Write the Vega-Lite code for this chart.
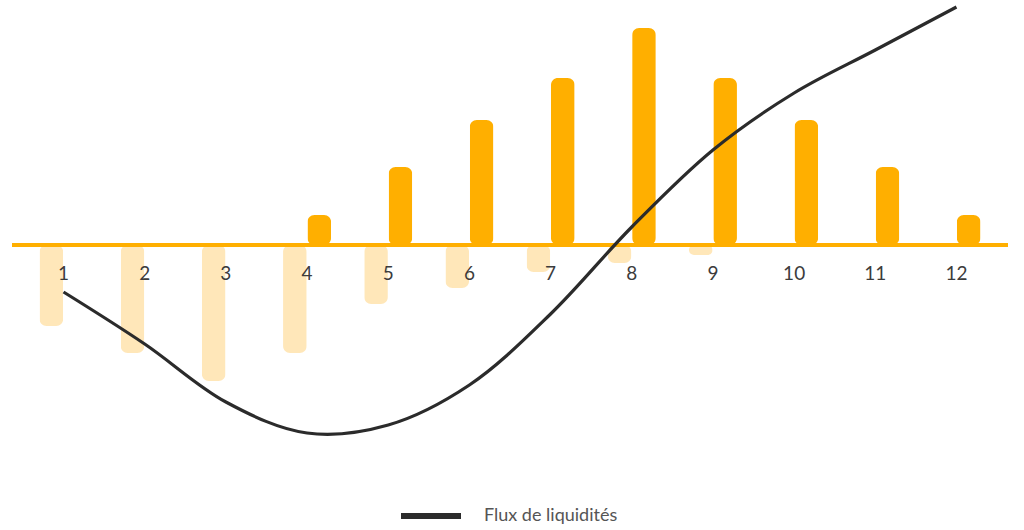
{
  "$schema": "https://vega.github.io/schema/vega-lite/v6.json",
  "autosize": {"type": "none"},
  "width": 996,
  "height": 460,
  "padding": {"left": 12, "top": 0, "right": 16, "bottom": 70},
  "background": "white",
  "config": {"view": {"stroke": null}, "font": "Lato"},
  "datasets": {
    "barres": [
      {"periode": 1, "type": "sortie", "valeur": -8.1},
      {"periode": 2, "type": "sortie", "valeur": -10.8},
      {"periode": 3, "type": "sortie", "valeur": -13.6},
      {"periode": 4, "type": "sortie", "valeur": -10.8},
      {"periode": 5, "type": "sortie", "valeur": -5.9},
      {"periode": 6, "type": "sortie", "valeur": -4.3},
      {"periode": 7, "type": "sortie", "valeur": -2.7},
      {"periode": 8, "type": "sortie", "valeur": -1.8},
      {"periode": 9, "type": "sortie", "valeur": -1.0},
      {"periode": 4, "type": "entree", "valeur": 3.0},
      {"periode": 5, "type": "entree", "valeur": 7.8},
      {"periode": 6, "type": "entree", "valeur": 12.5},
      {"periode": 7, "type": "entree", "valeur": 16.7},
      {"periode": 8, "type": "entree", "valeur": 21.7},
      {"periode": 9, "type": "entree", "valeur": 16.7},
      {"periode": 10, "type": "entree", "valeur": 12.5},
      {"periode": 11, "type": "entree", "valeur": 7.8},
      {"periode": 12, "type": "entree", "valeur": 3.0}
    ],
    "flux": [
      {"periode": 1, "cumul": -4.7},
      {"periode": 2, "cumul": -9.9},
      {"periode": 3, "cumul": -15.7},
      {"periode": 4, "cumul": -18.8},
      {"periode": 5, "cumul": -18.0},
      {"periode": 6, "cumul": -14.0},
      {"periode": 7, "cumul": -6.9},
      {"periode": 8, "cumul": 1.8},
      {"periode": 9, "cumul": 9.5},
      {"periode": 10, "cumul": 15.2},
      {"periode": 11, "cumul": 19.5},
      {"periode": 12, "cumul": 23.8}
    ]
  },
  "encoding": {
    "x": {
      "field": "periode",
      "type": "ordinal",
      "axis": null,
      "scale": {"paddingInner": 0.4084, "paddingOuter": 0.3389}
    }
  },
  "layer": [
    {
      "data": {"name": "barres"},
      "mark": {"type": "bar", "cornerRadius": 7},
      "encoding": {
        "xOffset": {
          "field": "type",
          "scale": {"domain": ["sortie", "entree"], "paddingInner": 0.03, "paddingOuter": 0}
        },
        "y": {
          "field": "valeur",
          "type": "quantitative",
          "axis": null,
          "scale": {"domain": [-21.5, 24.5], "nice": false, "zero": false}
        },
        "color": {
          "field": "type",
          "scale": {"domain": ["sortie", "entree"], "range": ["#FFE7B9", "#FFAF00"]},
          "legend": null
        }
      }
    },
    {
      "data": {"name": "flux"},
      "mark": {"type": "rule", "color": "#FFAF00", "strokeWidth": 4},
      "encoding": {"x": null, "y": {"datum": 0, "type": "quantitative"}}
    },
    {
      "data": {"name": "flux"},
      "mark": {"type": "text", "fontSize": 19, "color": "#3c3c3c", "dy": 29, "baseline": "middle"},
      "encoding": {
        "y": {"datum": 0, "type": "quantitative"},
        "text": {"field": "periode", "type": "ordinal"}
      }
    },
    {
      "data": {"name": "flux"},
      "mark": {"type": "line", "interpolate": "catmull-rom", "strokeWidth": 3.2},
      "encoding": {
        "y": {"field": "cumul", "type": "quantitative"},
        "stroke": {
          "datum": "Flux de liquidités",
          "scale": {"range": ["#2b2b2b"]},
          "legend": {
            "title": null,
            "orient": "none",
            "legendX": 386,
            "legendY": 483,
            "symbolType": "stroke",
            "symbolSize": 3600,
            "symbolStrokeWidth": 6,
            "symbolStrokeColor": "#2b2b2b",
            "labelFontSize": 18,
            "labelColor": "#555555",
            "labelOffset": 20,
            "padding": 0
          }
        }
      }
    }
  ]
}
